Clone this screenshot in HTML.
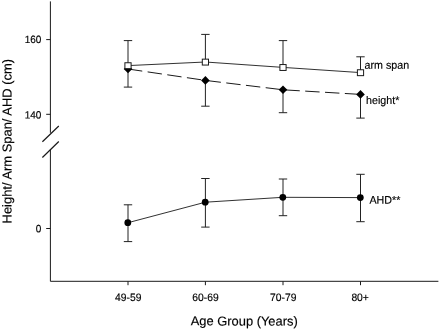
<!DOCTYPE html><html><head><meta charset="utf-8"><title>chart</title>
<style>html,body{margin:0;padding:0;background:#fff;}svg{display:block}text{font-family:"Liberation Sans",Arial,sans-serif;fill:#000;stroke:#000}</style></head><body>
<svg width="440" height="330" viewBox="0 0 440 330">
<rect width="440" height="330" fill="#fff"/>
<g stroke="#1a1a1a" stroke-width="1" fill="none">
<path d="M50.4 1.4V132.8M50.4 149.6V281.3H438.4"/>
<path stroke-width="1.2" d="M42.4 141.8L58.8 126.0M42.4 157.5L58.8 141.5"/>
<path d="M46.2 39.6H50.4"/>
<path d="M46.2 114.3H50.4"/>
<path d="M46.2 228.5H50.4"/>
<path d="M128.0 281.3V285.2"/>
<path d="M205.4 281.3V285.2"/>
<path d="M283.0 281.3V285.2"/>
<path d="M360.5 281.3V285.2"/>
</g>
<g stroke="#222" stroke-width="1" fill="none">
<path d="M128.0 65.6V40.6M123.8 40.6H132.2"/>
<path d="M128.0 69.0V87.1M123.8 87.1H132.2"/>
<path d="M128.0 204.8V241.6M123.8 204.8H132.2M123.8 241.6H132.2"/>
<path d="M205.4 62.0V34.4M201.2 34.4H209.6"/>
<path d="M205.4 80.4V106.2M201.2 106.2H209.6"/>
<path d="M205.4 178.5V227.1M201.2 178.5H209.6M201.2 227.1H209.6"/>
<path d="M283.0 67.4V40.6M278.8 40.6H287.2"/>
<path d="M283.0 89.8V112.7M278.8 112.7H287.2"/>
<path d="M283.0 179.0V215.7M278.8 179.0H287.2M278.8 215.7H287.2"/>
<path d="M360.5 72.6V56.8M356.3 56.8H364.7"/>
<path d="M360.5 94.4V118.1M356.3 118.1H364.7"/>
<path d="M360.5 174.3V221.7M356.3 174.3H364.7M356.3 221.7H364.7"/>
</g>
<polyline points="128.0,69.0 205.4,80.4 283.0,89.8 360.5,94.4" fill="none" stroke="#1a1a1a" stroke-width="1" stroke-dasharray="14.4 5.45"/>
<path d="M128.0 64.7L132.3 69.0L128.0 73.3L123.7 69.0Z" fill="#000"/>
<path d="M205.4 76.1L209.7 80.4L205.4 84.7L201.1 80.4Z" fill="#000"/>
<path d="M283.0 85.5L287.3 89.8L283.0 94.1L278.7 89.8Z" fill="#000"/>
<path d="M360.5 90.1L364.8 94.4L360.5 98.7L356.2 94.4Z" fill="#000"/>
<polyline points="128.0,65.6 205.4,62.0 283.0,67.4 360.5,72.6" fill="none" stroke="#1a1a1a" stroke-width="0.9"/>
<rect x="124.9" y="62.75" width="6.2" height="5.9" fill="#fff" stroke="#1a1a1a" stroke-width="1"/>
<rect x="202.3" y="59.15" width="6.2" height="5.9" fill="#fff" stroke="#1a1a1a" stroke-width="1"/>
<rect x="279.9" y="64.55" width="6.2" height="5.9" fill="#fff" stroke="#1a1a1a" stroke-width="1"/>
<rect x="357.4" y="69.75" width="6.2" height="5.9" fill="#fff" stroke="#1a1a1a" stroke-width="1"/>
<polyline points="128.0,222.7 205.4,202.2 283.0,197.3 360.5,197.6" fill="none" stroke="#1a1a1a" stroke-width="0.9"/>
<circle cx="127.8" cy="222.7" r="3.4" fill="#000"/>
<circle cx="205.2" cy="202.2" r="3.4" fill="#000"/>
<circle cx="282.8" cy="197.3" r="3.4" fill="#000"/>
<circle cx="360.3" cy="197.6" r="3.4" fill="#000"/>
<text font-size="10.0" text-anchor="end" stroke-width="0.15" transform="translate(41.4 43.0) rotate(0.04) scale(1 1.06)">160</text>
<text font-size="10.0" text-anchor="end" stroke-width="0.15" transform="translate(41.4 118.6) rotate(0.04) scale(1 1.06)">140</text>
<text font-size="10.0" text-anchor="end" stroke-width="0.15" transform="translate(41.4 232.2) rotate(0.04) scale(1 1.06)">0</text>
<text font-size="10.3" text-anchor="middle" stroke-width="0.15" transform="translate(128.2 301.1) rotate(0.04) scale(1 1.05)">49-59</text>
<text font-size="10.3" text-anchor="middle" stroke-width="0.15" transform="translate(205.5 301.1) rotate(0.04) scale(1 1.05)">60-69</text>
<text font-size="10.3" text-anchor="middle" stroke-width="0.15" transform="translate(283.2 301.1) rotate(0.04) scale(1 1.05)">70-79</text>
<text font-size="10.3" text-anchor="middle" stroke-width="0.15" transform="translate(360.1 301.1) rotate(0.04) scale(1 1.05)">80+</text>
<text font-size="10.7" text-anchor="start" stroke-width="0.15" transform="translate(364.5 68.8) rotate(0.04) scale(1 1.03)">arm span</text>
<text font-size="10.7" text-anchor="start" stroke-width="0.15" transform="translate(366.0 103.95) rotate(0.04) scale(1 1.04)">height*</text>
<text font-size="10.7" text-anchor="start" stroke-width="0.15" transform="translate(369.4 203.85) rotate(0.04) scale(1 1.04)">AHD**</text>
<text font-size="12.9" text-anchor="middle" stroke-width="0.15" transform="translate(244.2 325.4) rotate(0.04)">Age Group (Years)</text>
<text font-size="12.93" text-anchor="middle" stroke-width="0.15" transform="translate(11.5 141.2) rotate(-89.96)">Height/ Arm Span/ AHD (cm)</text>
</svg></body></html>
